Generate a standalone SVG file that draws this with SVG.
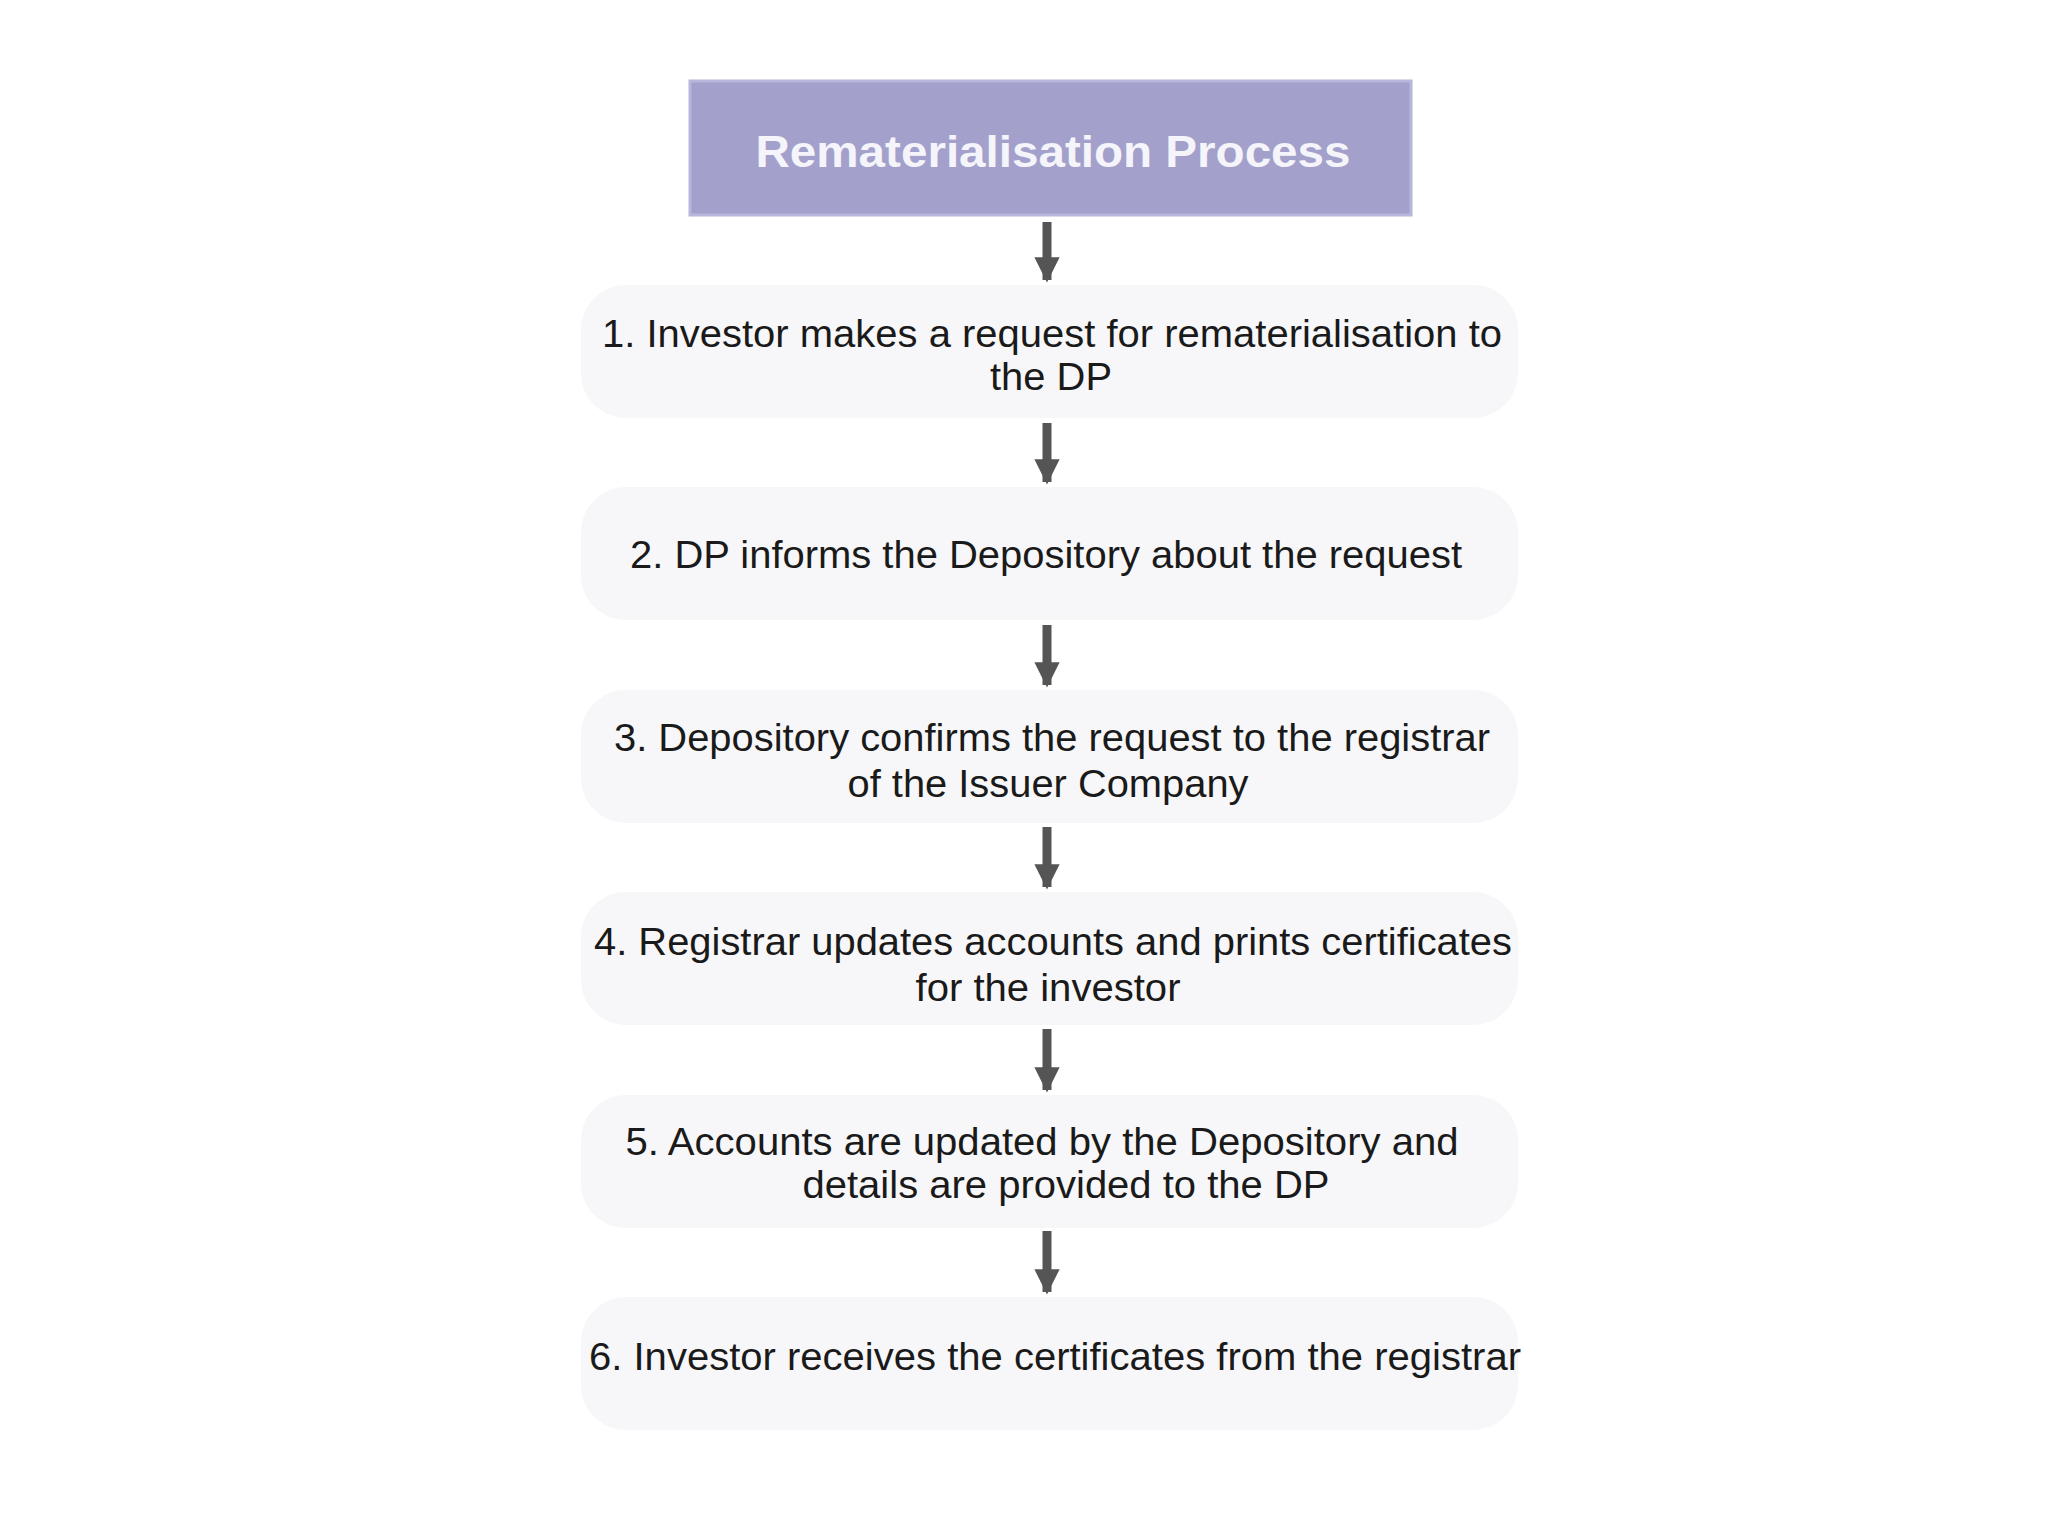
<svg xmlns="http://www.w3.org/2000/svg" width="2048" height="1536" viewBox="0 0 2048 1536">
<defs>
<style>
.step{fill:#f7f7f9;}
.txt{font-family:"Liberation Sans",Arial,sans-serif;font-size:38px;fill:#1a1a1a;text-anchor:middle;}
.hdr{font-family:"Liberation Sans",Arial,sans-serif;font-size:45px;font-weight:bold;fill:#f4f4fa;text-anchor:middle;}
.shaft{stroke:#555;stroke-width:9;fill:none;}
</style>
<marker id="ah" viewBox="0 0 10 10" refX="9" refY="5" markerWidth="2.8" markerHeight="3.1" orient="auto" markerUnits="strokeWidth">
<path d="M0,0 L10,5 L0,10 Z" fill="#555"/>
</marker>
</defs>
<rect width="2048" height="1536" fill="#ffffff"/>
<g id="header">
<rect x="690" y="81" width="721" height="134" fill="#a3a1cb" stroke="#b8b6dc" stroke-width="3"/>
<text class="hdr" x="1053" y="167" textLength="595" lengthAdjust="spacingAndGlyphs">Rematerialisation Process</text>
</g>
<g id="step1">
<rect class="step" x="581" y="285" width="937" height="133" rx="45"/>
<text class="txt" x="1052" y="347" textLength="900" lengthAdjust="spacingAndGlyphs">1. Investor makes a request for rematerialisation to</text>
<text class="txt" x="1051" y="390" textLength="122" lengthAdjust="spacingAndGlyphs">the DP</text>
</g>
<g id="step2">
<rect class="step" x="581" y="487" width="937" height="133" rx="45"/>
<text class="txt" x="1046" y="568" textLength="832" lengthAdjust="spacingAndGlyphs">2. DP informs the Depository about the request</text>
</g>
<g id="step3">
<rect class="step" x="581" y="690" width="937" height="133" rx="45"/>
<text class="txt" x="1052" y="751" textLength="876" lengthAdjust="spacingAndGlyphs">3. Depository confirms the request to the registrar</text>
<text class="txt" x="1048" y="797" textLength="401" lengthAdjust="spacingAndGlyphs">of the Issuer Company</text>
</g>
<g id="step4">
<rect class="step" x="581" y="892" width="937" height="133" rx="45"/>
<text class="txt" x="1053" y="955" textLength="918" lengthAdjust="spacingAndGlyphs">4. Registrar updates accounts and prints certificates</text>
<text class="txt" x="1048" y="1001" textLength="265" lengthAdjust="spacingAndGlyphs">for the investor</text>
</g>
<g id="step5">
<rect class="step" x="581" y="1095" width="937" height="133" rx="45"/>
<text class="txt" x="1042" y="1155" textLength="833" lengthAdjust="spacingAndGlyphs">5. Accounts are updated by the Depository and</text>
<text class="txt" x="1066" y="1198" textLength="527" lengthAdjust="spacingAndGlyphs">details are provided to the DP</text>
</g>
<g id="step6">
<rect class="step" x="581" y="1297" width="937" height="133" rx="45"/>
<text class="txt" x="1055" y="1370" textLength="932" lengthAdjust="spacingAndGlyphs">6. Investor receives the certificates from the registrar</text>
</g>
<g id="connectors">
<line class="shaft" x1="1047" y1="222" x2="1047" y2="280" marker-end="url(#ah)"/>
<line class="shaft" x1="1047" y1="423" x2="1047" y2="482" marker-end="url(#ah)"/>
<line class="shaft" x1="1047" y1="625" x2="1047" y2="685" marker-end="url(#ah)"/>
<line class="shaft" x1="1047" y1="827" x2="1047" y2="887" marker-end="url(#ah)"/>
<line class="shaft" x1="1047" y1="1029" x2="1047" y2="1090" marker-end="url(#ah)"/>
<line class="shaft" x1="1047" y1="1231" x2="1047" y2="1292" marker-end="url(#ah)"/>
</g>
</svg>
